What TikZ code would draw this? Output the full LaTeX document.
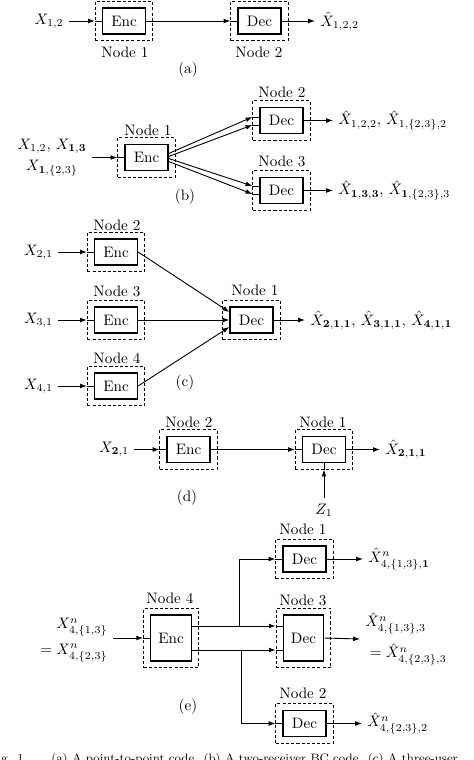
\documentclass[tikz,border=0pt]{standalone}
\usetikzlibrary{arrows.meta,fit,calc}
\tikzset{
  blkbox/.style={draw, line width=0.8pt, minimum width=28.4pt, minimum height=17.2pt, inner sep=0pt},
  bigbox/.style={minimum width=26.7pt, minimum height=30.4pt},
  dbox/.style={draw, line width=0.6pt, dash pattern=on 2pt off 1.4pt, inner xsep=4.3pt, inner ysep=4pt},
  arr/.style={-{Latex[length=4.5pt,width=3.2pt]}, line width=0.6pt},
  ln/.style={line width=0.6pt},
}
\newcommand\blk[4][]{\node[blkbox,#1] (#2) at (#3) {#4}; \node[dbox,fit=(#2)] (#2o) {};}
\begin{document}
\begin{tikzpicture}[x=0.66pt,y=-0.66pt]
\useasboundingbox (0,0) rectangle (474,760);
\clip (0,0) rectangle (474,760);

% ---------- (a)
\blk{a1}{124,21}{Enc}
\blk{a2}{259.5,21}{Dec}
\node (xa) at (49,21) {$X_{1,2}$};
\node[anchor=west] (ya) at (315,21) {$\hat X_{1,2,2}$};
\node (la1) at (125,52) {Node 1};
\node (la2) at (259,52) {Node 2};
\node (capa) at (188,70) {(a)};
\draw[arr] (xa.east |- a1) -- (a1o.west); \draw[ln] (a1o.west) -- (a1.west);
\draw[arr] (a1.east) -- (a2o.west); \draw[ln] (a2o.west) -- (a2.west);
\draw[arr] (a2.east) -- (ya.west);

% ---------- (b)
\blk{b1}{146.5,157.5}{Enc}
\blk{b2}{281.5,120.5}{Dec}
\blk{b3}{281.5,190.5}{Dec}
\node[align=center] (xb) at (52,157.5) {$X_{1,2},\, X_{\mathbf{1,3}}$\\[2pt]$X_{\mathbf{1},\{2,3\}}$};
\node (lb1) at (148,130) {Node 1};
\node (lb2) at (282,92) {Node 2};
\node (lb3) at (282,161) {Node 3};
\node[anchor=west] (yb2) at (333,120.5) {$\hat X_{1,2,2},\, \hat X_{1,\{2,3\},2}$};
\node[anchor=west] (yb3) at (333,190.5) {$\hat X_{\mathbf{1,3,3}},\, \hat X_{\mathbf{1},\{2,3\},3}$};
\node (capb) at (185,197) {(b)};
\draw[arr] (xb.east |- b1) -- (b1o.west); \draw[ln] (b1o.west) -- (b1.west);
\draw[arr] ($(b1.east)+(0,-4)$) -- ($(b2o.west)+(0,-3.5)$);
\draw[arr] ($(b1.east)+(0,-1)$) -- ($(b2o.west)+(0,4.5)$);
\draw[ln] ($(b2o.west)+(0,-3.5)$) -- ($(b2.west)+(0,-3.5)$);
\draw[ln] ($(b2o.west)+(0,4.5)$) -- ($(b2.west)+(0,4.5)$);
\draw[arr] ($(b1.east)+(0,1)$) -- ($(b3o.west)+(0,-4.5)$);
\draw[arr] ($(b1.east)+(0,4)$) -- ($(b3o.west)+(0,3.5)$);
\draw[ln] ($(b3o.west)+(0,-4.5)$) -- ($(b3.west)+(0,-4.5)$);
\draw[ln] ($(b3o.west)+(0,3.5)$) -- ($(b3.west)+(0,3.5)$);
\draw[arr] (b2.east) -- (yb2.west);
\draw[arr] (b3.east) -- (yb3.west);

% ---------- (c)
\blk{c2}{116,252}{Enc}
\blk{c3}{116,320}{Enc}
\blk{c4}{116,386}{Enc}
\blk{c1}{251.5,320}{Dec}
\node (lc2) at (117,225) {Node 2};
\node (lc3) at (117,291) {Node 3};
\node (lc4) at (117,358) {Node 4};
\node (lc1) at (255,290) {Node 1};
\node (xc2) at (38.5,252) {$X_{2,1}$};
\node (xc3) at (38.5,320) {$X_{3,1}$};
\node (xc4) at (38.5,386) {$X_{4,1}$};
\node[anchor=west] (yc) at (305,320) {$\hat X_{\mathbf{2,1,1}},\, \hat X_{\mathbf{3,1,1}},\, \hat X_{\mathbf{4,1,1}}$};
\node (capc) at (185,383) {(c)};
\draw[arr] (xc2.east |- c2) -- (c2o.west); \draw[ln] (c2o.west) -- (c2.west);
\draw[arr] (xc3.east |- c3) -- (c3o.west); \draw[ln] (c3o.west) -- (c3.west);
\draw[arr] (xc4.east |- c4) -- (c4o.west); \draw[ln] (c4o.west) -- (c4.west);
\draw[arr] (c2.east) -- ($(c1.west)+(0,-8)$);
\draw[arr] (c3.east) -- (c1.west);
\draw[arr] (c4.east) -- ($(c1.west)+(0,7)$);
\draw[arr] (c1.east) -- (yc.west);

% ---------- (d)
\blk{d2}{188.5,449.5}{Enc}
\blk{d1}{324,449.5}{Dec}
\node (ld2) at (189,422) {Node 2};
\node (ld1) at (323,422) {Node 1};
\node (xd) at (114,449.5) {$X_{\mathbf{2},1}$};
\node[anchor=west] (yd) at (380,449.5) {$\hat X_{\mathbf{2,1,1}}$};
\node (zd) at (324,510) {$Z_1$};
\node (capd) at (187,498) {(d)};
\draw[arr] (xd.east |- d2) -- (d2o.west); \draw[ln] (d2o.west) -- (d2.west);
\draw[arr] (d2.east) -- (d1o.west); \draw[ln] (d1o.west) -- (d1.west);
\draw[arr] (d1.east) -- (yd.west);
\draw[arr] (zd.north) -- (d1o.south); \draw[ln] (d1o.south) -- (d1.south);

% ---------- (e)
\blk[bigbox]{e4}{171,638}{Enc}
\blk[bigbox]{e3}{303.5,638}{Dec}
\blk{e1}{304.5,559}{Dec}
\blk{e2}{304.5,723.5}{Dec}
\node (le4) at (170,598) {Node 4};
\node (le3) at (303,600) {Node 3};
\node (le1) at (303,529) {Node 1};
\node (le2) at (303,693) {Node 2};
\node[align=right] (xe) at (74,640) {$X^n_{4,\{1,3\}}$\\[5pt]$=X^n_{4,\{2,3\}}$};
\node[anchor=west] (ye1) at (363,559) {$\hat X^n_{4,\{1,3\},\mathbf{1}}$};
\node[anchor=west,align=left] (ye3) at (360,639) {$\hat X^n_{4,\{1,3\},3}$\\[5pt]\hspace*{3pt}$=\hat X^n_{4,\{2,3\},3}$};
\node[anchor=west] (ye2) at (362,723.5) {$\hat X^n_{4,\{2,3\},2}$};
\node (cape) at (188,707) {(e)};
\coordinate (j1) at ($(e4.east)+(48,-12)$);
\coordinate (j2) at ($(e4.east)+(50,12)$);
\draw[arr] (xe.east |- e4) -- (e4o.west); \draw[ln] (e4o.west) -- (e4.west);
\draw[arr] ($(e4.east)+(0,-12)$) -- ($(e3o.west)+(0,-12)$); \draw[ln] ($(e3o.west)+(0,-12)$) -- ($(e3.west)+(0,-12)$);
\draw[arr] ($(e4.east)+(0,12)$) -- ($(e3o.west)+(0,12)$); \draw[ln] ($(e3o.west)+(0,12)$) -- ($(e3.west)+(0,12)$);
\draw[arr] (j1) |- (e1o.west); \draw[ln] (e1o.west) -- (e1.west);
\draw[arr] (j2) |- (e2o.west); \draw[ln] (e2o.west) -- (e2.west);
\draw[arr] (e1.east) -- (ye1.west);
\draw[arr] (e3.east) -- (ye3.west);
\draw[arr] (e2.east) -- (ye2.west);

% ---------- caption (cut off)
\node[anchor=base west, font=\footnotesize, inner sep=0pt] (cap) at (-11,762) {Fig. 1.\hspace{2em}(a) A point-to-point code. (b) A two-receiver BC code. (c) A three-user};
\end{tikzpicture}
\end{document}
